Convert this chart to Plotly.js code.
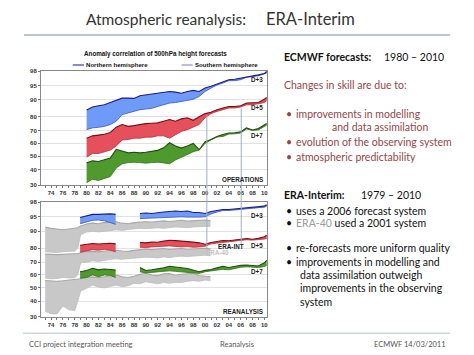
<!DOCTYPE html>
<html><head><meta charset="utf-8">
<script src="https://cdn.plot.ly/plotly-3.0.1.min.js"></script>
<style>html,body{margin:0;padding:0;background:#fff;}#chart{width:474px;height:355px;}</style>
</head><body><div id="chart"></div>
<script>
// ---------- data ----------
const Y_TICK_VALUES = [30, 40, 50, 60, 70, 80, 90, 95, 98];
// axis scale of the original chart (relative position of each tick value, 0 = bottom, 1 = top)
const Y_SCALE_POS = [0, 0.134, 0.254, 0.365, 0.477, 0.598, 0.747, 0.873, 1];
const X_TICK_YEARS = [];
for (let y = 1973; y <= 2010; y++) X_TICK_YEARS.push(y);

// Operations (ECMWF forecasts), 1980-2010
const OPS_YEARS = [1980,1981,1982,1983,1984,1985,1986,1987,1988,1989,1990,1991,1992,1993,1994,1995,1996,1997,1998,1999,2000,2001,2002,2003,2004,2005,2006,2007,2008,2009,2010,2010.4];
const OPS_D3_NH = [84.0,85.8,86.5,87.1,88.4,89.6,90.6,90.6,90.5,91.4, 91.7,91.9,92.3,92.6,92.9,92.7,92.3,92.9,93.3,92.9, 94.1,94.7,95.3,95.8,96.2,96.3,96.5,96.8,97.0,97.2, 97.5,97.9];
const OPS_D3_SH = [70.7,72.0,72.4,73.1,74.4,76.8,81.3,82.3,83.2,84.2, 84.6,85.0,86.1,87.1,88.1,88.4,89.0,90.0,90.2,91.2, 92.9,94.1,95.1,95.5,96.0,96.0,96.2,96.7,96.8,97.0, 97.4,97.6];
const OPS_D5_NH = [64.1,65.9,66.5,67.2,68.6,72.5,74.4,73.1,73.6,74.4, 75.1,75.3,75.6,76.8,78.0,76.8,78.5,79.3,77.5,80.0, 81.9,82.7,84.2,85.2,86.1,86.1,86.5,88.1,88.1,88.4, 90.2,90.8];
const OPS_D5_SH = [49.1,52.1,52.0,53.4,54.7,57.9,62.7,63.0,64.1,64.1, 64.9,64.9,65.9,65.9,64.1,66.7,69.4,70.7,72.5,74.4, 79.3,81.9,83.2,84.2,85.2,85.2,85.8,87.1,87.1,87.7, 88.4,89.5];
const OPS_D7_NH = [45.0,46.5,46.0,47.5,48.5,55.3,54.0,52.5,53.0,52.5, 53.0,53.5,54.5,56.5,60.5,58.0,56.3,58.0,60.0,55.0, 61.3,63.0,65.4,67.0,68.1,68.3,69.0,72.0,70.5,71.5, 74.4,75.2];
const OPS_D7_SH = [31.5,33.8,33.0,34.5,35.5,41.2,44.3,45.2,45.5,45.2, 44.8,45.2,45.5,45.0,44.3,47.1,49.1,50.8,53.4,54.7, 60.0,62.7,65.0,65.4,67.3,67.5,68.1,71.2,70.2,70.5, 72.7,74.0];

// ERA-40 re-forecasts
const E40_YEARS = [1973,1974,1975,1976,1977,1978,1978.5,1979,1980,1981,1982,1983,1984,1985,1986,1987,1988,1989,1990,1991,1992,1993,1994,1995,1996,1997,1998,1999,2000,2000.9];
const E40_D3_NH = [91.5,91.0,90.8,90.5,90.8,91.0,91.2,91.8,92.5,92.8,92.6,93.0,93.2,93.3,92.8,92.6,93.0,93.2,93.3,93.2,93.5,93.6,93.4,93.6,93.8,93.5,93.6,93.8,93.9,93.7];
const E40_D3_SH = [77.5,77.2,77.0,77.5,77.8,78.0,80.0,88.0,89.5,90.0,89.6,89.8,90.2,90.5,90.3,90.6,90.8,91.0,90.9,91.0,91.2,91.0,91.3,91.5,91.4,91.2,91.5,91.6,91.8,91.7];
const E40_D5_NH = [75.8,75.5,75.4,75.6,75.8,76.0,76.2,76.8,77.6,77.8,77.4,78.0,78.4,78.6,78.0,77.8,78.5,79.0,79.4,79.0,79.3,79.8,79.2,79.5,79.8,79.3,79.5,79.8,80.0,79.6];
const E40_D5_SH = [57.5,57.0,57.2,58.0,57.6,57.8,60.0,69.5,70.0,71.0,70.5,71.5,72.0,72.4,72.0,72.5,73.0,73.4,73.6,73.4,73.0,73.8,73.2,74.0,74.3,74.0,74.4,74.8,75.0,74.6];
const E40_D7_NH = [55.6,55.3,55.0,55.4,55.8,56.2,56.5,57.0,58.0,58.5,57.8,58.6,59.5,60.0,58.5,58.0,59.0,60.5,61.3,60.0,59.5,60.8,61.0,59.8,60.5,60.8,61.2,59.5,59.2,58.6];
const E40_D7_SH = [33.5,32.0,31.8,37.0,34.5,34.0,40.0,47.5,49.5,52.0,50.5,49.8,51.0,52.0,50.8,51.5,53.4,53.0,54.7,53.8,53.0,54.0,53.5,54.2,54.0,55.0,55.5,55.0,56.0,55.5];

// ERA-Interim re-forecasts (two periods)
const EI_YEARS_A = [1978.9,1980,1981,1982,1983,1984,1984.9];
const EI_D3_NH_A = [94.8,95.2,95.5,95.5,95.6,95.6,95.5];
const EI_D3_SH_A = [92.6,93.2,93.8,93.9,93.6,93.0,92.4];
const EI_D5_NH_A = [81.8,82.3,82.8,82.5,82.8,83.0,82.6];
const EI_D5_SH_A = [77.2,78.0,79.0,78.5,79.3,78.6,77.4];
const EI_D7_NH_A = [62.5,63.5,65.2,64.0,64.6,64.2,63.8];
const EI_D7_SH_A = [57.4,58.0,60.0,58.5,60.0,59.6,58.0];
const EI_YEARS_B = [1989,1990,1991,1992,1993,1994,1995,1996,1997,1998,1999,2000,2001,2002,2003,2004,2005,2006,2007,2008,2009,2010,2010.4];
const EI_D3_NH_B = [95.7,95.8,95.7,95.9,96.0,96.1,96.2,96.1,96.2,95.9,95.9,95.7,96.1,96.3,96.5,96.5,96.6,96.7,96.8,96.9,97.0,97.2,97.5];
const EI_D3_SH_B = [94.4,94.5,94.4,94.6,94.8,94.7,94.9,95.0,94.9,94.8,94.9,95.0,95.6,96.0,96.3,96.3,96.4,96.6,96.7,96.8,96.8,97.0,97.2];
const EI_D5_NH_B = [83.4,83.2,83.6,83.5,84.2,84.7,84.5,84.3,84.0,83.6,83.2,82.4,83.4,84.0,84.6,84.4,84.8,85.2,85.7,85.3,85.8,86.8,87.6];
const EI_D5_SH_B = [80.6,80.4,80.8,80.8,81.2,81.4,81.0,80.8,81.0,80.6,80.8,81.2,82.6,83.0,83.4,83.6,84.0,84.4,85.0,84.8,85.0,85.4,85.8];
const EI_D7_NH_B = [65.8,63.5,64.0,64.5,65.5,66.8,66.0,65.6,65.0,64.0,62.5,63.6,64.2,65.5,66.8,65.8,66.8,67.5,67.8,67.4,67.0,69.5,71.3];
const EI_D7_SH_B = [62.5,61.5,62.0,62.5,63.0,63.2,62.8,62.4,62.0,61.2,61.2,62.5,63.2,63.8,64.4,64.0,65.0,66.0,66.3,66.0,65.8,66.5,67.5];

// ---------- scale ----------
function scaleY(v) {
  const t = Y_TICK_VALUES, p = Y_SCALE_POS;
  if (v <= t[0]) return p[0];
  for (let i = 1; i < t.length; i++) {
    if (v <= t[i]) return p[i-1] + (v - t[i-1]) / (t[i] - t[i-1]) * (p[i] - p[i-1]);
  }
  return p[p.length-1];
}

const W = 474, H = 355;
const COL = {
  blue: {fill:'#6d9bf7', hi:'#1c1c86', lo:'#3a4fb8'},
  red:  {fill:'#e5505c', hi:'#7a0d12', lo:'#b0303a'},
  green:{fill:'#4f9a2c', hi:'#1f4f0c', lo:'#336e1a'},
  grey: {fill:'#c8c8c8', hi:'#a8a8a8', lo:'#bcbcbc'}
};

const traces = [];
function band(xa, ya, years, sh, nh, c) {
  traces.push({x: years, y: sh.map(scaleY), xaxis: xa, yaxis: ya, type:'scatter', mode:'lines',
    line:{color:c.lo, width:0.8}, hoverinfo:'skip', showlegend:false});
  traces.push({x: years, y: nh.map(scaleY), xaxis: xa, yaxis: ya, type:'scatter', mode:'lines',
    fill:'tonexty', fillcolor:c.fill, line:{color:c.hi, width:1.1}, hoverinfo:'skip', showlegend:false});
}
band('x','y', OPS_YEARS, OPS_D3_SH, OPS_D3_NH, COL.blue);
band('x','y', OPS_YEARS, OPS_D5_SH, OPS_D5_NH, COL.red);
band('x','y', OPS_YEARS, OPS_D7_SH, OPS_D7_NH, COL.green);

band('x2','y2', E40_YEARS, E40_D3_SH, E40_D3_NH, COL.grey);
band('x2','y2', E40_YEARS, E40_D5_SH, E40_D5_NH, COL.grey);
band('x2','y2', E40_YEARS, E40_D7_SH, E40_D7_NH, COL.grey);
band('x2','y2', EI_YEARS_A, EI_D3_SH_A, EI_D3_NH_A, COL.blue);
band('x2','y2', EI_YEARS_A, EI_D5_SH_A, EI_D5_NH_A, COL.red);
band('x2','y2', EI_YEARS_A, EI_D7_SH_A, EI_D7_NH_A, COL.green);
band('x2','y2', EI_YEARS_B, EI_D3_SH_B, EI_D3_NH_B, COL.blue);
band('x2','y2', EI_YEARS_B, EI_D5_SH_B, EI_D5_NH_B, COL.red);
band('x2','y2', EI_YEARS_B, EI_D7_SH_B, EI_D7_NH_B, COL.green);

// ---------- axes ----------
const tickFont = {family:'Liberation Sans, Arial, sans-serif', size:6, color:'#333', weight:'bold'};
function xAxis(anchor) {
  return {domain:[41/W, 267/W], range:[1972.3, 2010.45], anchor: anchor,
    tickmode:'array', tickvals: X_TICK_YEARS,
    ticktext: X_TICK_YEARS.map(y => y % 2 === 0 ? String(y).slice(2) : ''),
    ticks:'outside', ticklen:2, tickcolor:'#777', tickfont: tickFont,
    showgrid:false, zeroline:false, showline:true, linecolor:'#888', linewidth:1, mirror:true, fixedrange:true};
}
function yAxis(anchor, dom) {
  return {domain: dom, range:[0,1], anchor: anchor,
    tickmode:'array', tickvals: Y_TICK_VALUES.map(scaleY), ticktext: Y_TICK_VALUES.map(String),
    ticks:'outside', ticklen:2, tickcolor:'#777', tickfont: tickFont,
    showgrid:true, gridcolor:'#e2e2e2', gridwidth:1, zeroline:false,
    showline:true, linecolor:'#888', linewidth:1, mirror:true, fixedrange:true};
}

// ---------- text & decorations ----------
const px = x => x / W, py = y => 1 - y / H;
const anns = [];
function txt(x, y, text, size, color, anchor, family) {
  anns.push({xref:'paper', yref:'paper', x: px(x), y: py(y), text: text, showarrow:false,
    xanchor: anchor || 'left', yanchor:'middle', borderpad:0,
    font:{family: family || 'Lato, sans-serif', size: size, color: color}});
}
const CF = 'Liberation Sans, Arial, sans-serif';
// slide title
txt(247, 18.5, 'Atmospheric reanalysis:', 15.5, '#333', 'right');
txt(265, 18.5, 'ERA-Interim', 16.5, '#333', 'left');
// chart title & legend
txt(155, 54.3, '<b>Anomaly correlation of 500hPa height forecasts</b>', 6.3, '#111', 'center', CF);
txt(85, 65, '<b>Northern hemisphere</b>', 6.1, '#111', 'left', CF);
txt(194, 65, '<b>Southern hemisphere</b>', 6.1, '#111', 'left', CF);
// panel labels
const lab = (x, y, t, c) => txt(x, y, '<b>' + t + '</b>', 6.3, c || '#222', 'right', CF);
lab(264, 79.5, 'D+3'); lab(264, 107.5, 'D+5'); lab(264, 136, 'D+7'); lab(264, 179.5, 'OPERATIONS');
lab(264, 215.7, 'D+3'); lab(264, 245, 'D+5'); lab(264, 271, 'D+7'); lab(264, 311, 'REANALYSIS');
txt(216.5, 246.7, '<b>ERA-INT</b>', 6.3, '#222', 'left', CF);
txt(205, 252.3, '<b>ERA-40</b>', 6.3, '#c2c2c2', 'left', CF);

// right-hand text
const DR = '#954646', BK = '#111';
txt(283.3, 56.7, '<b>ECMWF forecasts:</b>', 10.5, BK);
txt(383.3, 56.7, '1980 – 2010', 10.5, BK);
txt(283.3, 85, 'Changes in skill are due to:', 10.5, DR);
const bullet = (y, t, c, ind) => { txt(284.5, y, '•', 10.5, c); txt(ind || 295, y, t, 10.5, c); };
bullet(114, 'improvements in modelling', DR);
txt(330.7, 127.3, 'and data assimilation', 10.5, DR);
bullet(141.7, 'evolution of the observing system', DR);
bullet(156.7, 'atmospheric predictability', DR);
txt(283.3, 195, '<b>ERA-Interim:</b>', 10.5, BK);
txt(360, 195, '1979 – 2010', 10.5, BK);
bullet(210.7, 'uses a 2006 forecast system', BK);
bullet(223.3, '<span style="color:#9a9a9a">ERA-40</span> used a 2001 system', BK);
bullet(248.3, 're-forecasts more uniform quality', BK);
bullet(261.7, 'improvements in modelling and', BK);
txt(299.3, 275, 'data assimilation outweigh', 10.5, BK);
txt(299.3, 288.3, 'improvements in the observing', 10.5, BK);
txt(299.3, 301.7, 'system', 10.5, BK);
// footer
txt(28, 344.7, 'CCI project integration meeting', 7.5, '#555');
txt(236.7, 344.7, 'Reanalysis', 7.5, '#555', 'center');
txt(446.7, 344.7, 'ECMWF 14/03/2011', 7.5, '#555', 'right');

const shapes = [
  {type:'line', xref:'paper', yref:'paper', x0:px(24), x1:px(450), y0:py(35), y1:py(35), line:{color:'#a7b3c0', width:1.5}},
  {type:'line', xref:'paper', yref:'paper', x0:px(23), x1:px(450), y0:py(333.3), y1:py(333.3), line:{color:'#cfd6de', width:1.5}},
  {type:'line', xref:'paper', yref:'paper', x0:px(72.7), x1:px(84), y0:py(65), y1:py(65), line:{color:'#3c3ca0', width:1.2}},
  {type:'line', xref:'paper', yref:'paper', x0:px(181.7), x1:px(192.7), y0:py(65), y1:py(65), line:{color:'#9090e0', width:1.2}},
  {type:'line', xref:'x', yref:'paper', x0:2000.3, x1:2000.3, y0:py(250), y1:py(115), line:{color:'#9fb0c4', width:1}},
  {type:'line', xref:'x', yref:'paper', x0:2006.1, x1:2006.1, y0:py(244), y1:py(108), line:{color:'#9fb0c4', width:1}}
];

const layout = {
  width: W, height: H, margin:{l:0, r:0, t:0, b:0}, paper_bgcolor:'#fff', plot_bgcolor:'#fff',
  showlegend:false,
  xaxis: xAxis('y'), yaxis: yAxis('x', [1 - 185/H, 1 - 71/H]),
  xaxis2: xAxis('y2'), yaxis2: yAxis('x2', [1 - 316.7/H, 1 - 202.3/H]),
  annotations: anns, shapes: shapes
};
Plotly.newPlot('chart', traces, layout, {displayModeBar:false, staticPlot:true});
</script></body></html>
